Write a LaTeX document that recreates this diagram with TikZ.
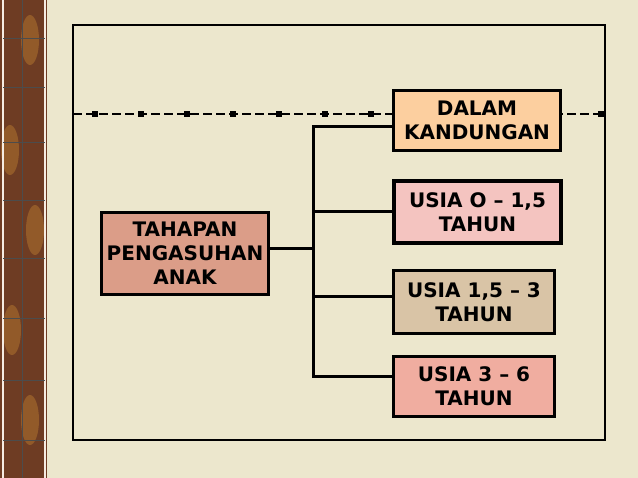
\documentclass[tikz,border=0pt]{standalone}
\usepackage{fontspec}
\setmainfont{DejaVu Sans}
\begin{document}
\begin{tikzpicture}[x=1pt,y=-1pt,
  box/.style={draw=black,line width=3pt,inner sep=0pt,anchor=north west,align=center,
    font=\bfseries\fontsize{20}{24}\selectfont},
  conn/.style={line width=3pt}]
\useasboundingbox (0,0) rectangle (638,478);
\fill[fill={rgb,255:red,236;green,231;blue,205}] (0,0) rectangle (638,478);
% wood strip
\fill[fill={rgb,255:red,110;green,60;blue,35}] (0,0) rectangle (47,478);
\foreach \yy/\xx in {40/30,150/10,230/35,330/12,420/30}
  \fill[fill={rgb,255:red,170;green,110;blue,45},opacity=.6] (\xx,\yy) ellipse (9 and 25);
\draw[white!85!brown,line width=1.2pt] (3,0) -- (3,478) (45,0)--(45,478);
\draw[black!70,line width=.5pt] (22,0)--(22,478);
\foreach \yy in {38,87,142,200,258,318,380,440}
  \draw[black!70,line width=.5pt] (3,\yy)--(45,\yy);
% frame
\draw[line width=2.5pt] (73,25) rectangle (605,440);
\draw[line width=1.2pt,dash pattern=on 9pt off 4pt] (73,114) -- (605,114);
\foreach \xx in {95,141,...,601} \fill (\xx-3,111) rectangle (\xx+3,117);
% nodes
\node[box,fill={rgb,255:red,219;green,157;blue,136},minimum width=167,minimum height=82] (t) at (100,211) {TAHAPAN\\PENGASUHAN\\ANAK};
\node[box,fill={rgb,255:red,252;green,207;blue,159},minimum width=167,minimum height=60] (a) at (392,89) {DALAM\\KANDUNGAN};
\node[box,line width=4pt,fill={rgb,255:red,244;green,196;blue,192},minimum width=167,minimum height=62] (b) at (392,179) {USIA O – 1,5\\TAHUN};
\node[box,fill={rgb,255:red,217;green,196;blue,166},minimum width=161,minimum height=63] (c) at (392,269) {USIA 1,5 – 3\\TAHUN};
\node[box,fill={rgb,255:red,240;green,173;blue,160},minimum width=161,minimum height=60] (d) at (392,355) {USIA 3 – 6\\TAHUN};
\coordinate (j) at (313,249);
\draw[conn] (t.east|-j) -- (j);
\draw[conn] (a.west|-0,127) -| (313,377) -- (d.west|-0,377);
\draw[conn] (313,212) -- (b.west|-0,212);
\draw[conn] (313,297) -- (c.west|-0,297);
\end{tikzpicture}
\end{document}
